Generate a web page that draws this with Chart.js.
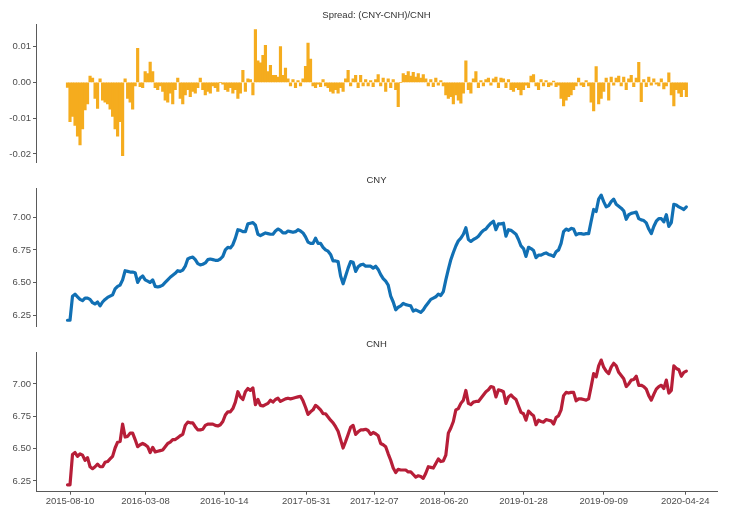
<!DOCTYPE html>
<html>
<head>
<meta charset="utf-8">
<script src="https://cdn.jsdelivr.net/npm/chart.js@4"></script>
<style>
  html, body { margin: 0; padding: 0; background: #ffffff; }
  body { width: 732px; height: 516px; position: relative; overflow: hidden; }
  canvas { position: absolute; left: 0; }
</style>
</head>
<body>
<canvas id="c1" width="732" height="170" style="top:0px"></canvas>
<canvas id="c2" width="732" height="170" style="top:164px"></canvas>
<canvas id="c3" width="732" height="187" style="top:329px"></canvas>
<script>
// ---------- data (weekly observations starting 2015-08-03) ----------
const startDate = '2015-08-03';
const stepDays = 7;

const spread = [
  -0.0014,-0.0110,-0.0095,-0.0120,-0.0150,-0.0175,-0.0130,-0.0077,-0.0060,0.0018,
  0.0012,-0.0045,-0.0073,0.0010,-0.0050,-0.0055,-0.0060,-0.0075,-0.0095,-0.0130,
  -0.0150,-0.0110,-0.0205,0.0010,-0.0045,-0.0055,-0.0075,-0.0010,0.0095,-0.0012,
  -0.0015,0.0030,0.0025,0.0057,0.0030,-0.0015,-0.0020,-0.0010,-0.0025,-0.0050,
  -0.0055,-0.0030,-0.0060,-0.0020,0.0012,-0.0045,-0.0060,-0.0035,-0.0020,-0.0040,
  -0.0025,-0.0030,-0.0015,0.0012,-0.0020,-0.0035,-0.0025,-0.0030,-0.0010,-0.0015,
  -0.0025,0,-0.0005,-0.0020,-0.0025,-0.0015,-0.0030,-0.0020,-0.0045,-0.0030,
  0.0034,-0.0025,0.0010,0.0008,-0.0035,0.0148,0.0060,0.0055,0.0076,0.0104,
  0.0030,0.0048,0.0020,0.0020,0.0015,0.0100,0.0020,0.0040,0.0010,-0.0010,
  0.0008,-0.0015,0.0005,-0.0010,0.0010,0.0045,0.0110,0.0065,-0.0010,-0.0015,
  -0.0005,-0.0012,0.0008,-0.0010,-0.0015,-0.0025,-0.0030,-0.0020,-0.0030,-0.0015,
  -0.0025,0.0010,0.0034,-0.0010,0.0010,0.0020,-0.0015,0.0020,-0.0010,0.0008,
  -0.0010,0.0005,-0.0012,0.0008,0.0022,-0.0010,0.0012,-0.0025,0.0010,-0.0015,
  0.0008,-0.0020,-0.0068,0,0.0025,0.0020,0.0030,0.0018,0.0028,0.0015,
  0.0025,0.0012,0.0022,0.0010,-0.0010,0.0008,-0.0012,0.0012,-0.0008,0.0005,
  -0.0010,-0.0035,-0.0045,-0.0040,-0.0060,-0.0035,-0.0050,-0.0058,-0.0030,0.0060,
  -0.0020,-0.0030,0.0010,0.0030,-0.0015,0.0005,-0.0010,0.0008,0.0012,-0.0008,
  0.0010,0.0015,-0.0015,0.0012,0.0010,-0.0015,0.0008,-0.0020,-0.0025,-0.0015,
  -0.0020,-0.0035,-0.0020,-0.0008,-0.0015,0.0018,0.0022,-0.0010,-0.0020,0.0008,
  -0.0010,0.0005,-0.0012,-0.0008,0.0004,-0.0012,-0.0008,-0.0045,-0.0066,-0.0050,
  -0.0040,-0.0035,-0.0020,-0.0010,0.0012,-0.0008,-0.0012,0.0005,-0.0010,-0.0055,
  -0.0080,0.0044,-0.0060,-0.0045,-0.0025,0.0012,-0.0050,0.0015,-0.0008,0.0012,
  0.0018,-0.0010,0.0015,-0.0020,0.0010,0.0020,-0.0012,0.0012,0.0056,-0.0054,
  0.0008,-0.0012,0.0015,-0.0008,0.0010,-0.0005,-0.0010,0.0010,-0.0018,-0.0010,
  0.0027,-0.0035,-0.0066,-0.0020,-0.0030,-0.0040,-0.0020,-0.0040
];

const cny = [
  6.21,6.21,6.395,6.41,6.39,6.37,6.36,6.38,6.38,6.37,
  6.345,6.335,6.35,6.32,6.35,6.37,6.385,6.395,6.405,6.45,
  6.47,6.48,6.52,6.59,6.585,6.58,6.58,6.575,6.50,6.535,
  6.55,6.52,6.51,6.50,6.52,6.47,6.465,6.47,6.48,6.50,
  6.52,6.54,6.555,6.57,6.59,6.585,6.595,6.625,6.68,6.69,
  6.695,6.675,6.645,6.635,6.64,6.65,6.675,6.68,6.675,6.67,
  6.67,6.68,6.70,6.75,6.77,6.765,6.79,6.84,6.905,6.90,
  6.89,6.89,6.95,6.955,6.96,6.94,6.87,6.86,6.87,6.88,
  6.875,6.87,6.87,6.895,6.91,6.90,6.88,6.88,6.895,6.89,
  6.885,6.89,6.905,6.895,6.88,6.85,6.81,6.80,6.80,6.84,
  6.80,6.80,6.77,6.75,6.74,6.715,6.665,6.665,6.66,6.55,
  6.49,6.55,6.61,6.66,6.655,6.585,6.62,6.635,6.64,6.625,
  6.625,6.625,6.61,6.625,6.60,6.56,6.53,6.51,6.48,6.395,
  6.35,6.29,6.31,6.32,6.34,6.33,6.325,6.32,6.28,6.29,
  6.28,6.27,6.29,6.32,6.345,6.37,6.38,6.39,6.41,6.40,
  6.43,6.52,6.60,6.675,6.73,6.78,6.82,6.84,6.87,6.92,
  6.83,6.815,6.83,6.84,6.855,6.88,6.90,6.91,6.935,6.955,
  6.97,6.905,6.95,6.95,6.955,6.855,6.905,6.90,6.885,6.87,
  6.83,6.78,6.76,6.70,6.77,6.76,6.745,6.69,6.71,6.71,
  6.72,6.727,6.715,6.71,6.70,6.735,6.75,6.80,6.89,6.91,
  6.90,6.915,6.91,6.865,6.875,6.875,6.87,6.875,6.875,6.97,
  7.06,7.045,7.14,7.17,7.12,7.08,7.09,7.12,7.14,7.10,
  7.085,7.07,7.05,6.985,7.02,7.03,7.035,7.04,6.99,6.98,
  6.975,6.957,6.91,6.875,6.93,6.97,6.99,6.99,6.965,7.02,
  6.93,6.96,7.10,7.095,7.08,7.07,7.06,7.08
];

const cnh = [
  6.22,6.22,6.455,6.47,6.44,6.46,6.45,6.41,6.43,6.36,
  6.345,6.36,6.38,6.36,6.36,6.395,6.40,6.42,6.44,6.505,
  6.55,6.555,6.69,6.59,6.595,6.62,6.62,6.57,6.515,6.53,
  6.54,6.53,6.515,6.47,6.51,6.475,6.48,6.485,6.49,6.515,
  6.54,6.55,6.57,6.57,6.585,6.60,6.61,6.68,6.705,6.70,
  6.70,6.67,6.645,6.645,6.65,6.68,6.69,6.69,6.69,6.68,
  6.675,6.685,6.71,6.76,6.785,6.785,6.81,6.86,6.94,6.90,
  6.88,6.94,6.965,6.95,6.97,6.84,6.88,6.835,6.83,6.84,
  6.85,6.875,6.86,6.88,6.89,6.865,6.875,6.885,6.89,6.885,
  6.89,6.895,6.90,6.905,6.87,6.82,6.765,6.785,6.80,6.835,
  6.82,6.80,6.77,6.77,6.745,6.72,6.70,6.67,6.635,6.57,
  6.505,6.555,6.61,6.665,6.68,6.61,6.63,6.645,6.645,6.65,
  6.64,6.61,6.625,6.615,6.60,6.54,6.53,6.515,6.46,6.41,
  6.35,6.315,6.34,6.335,6.335,6.335,6.32,6.32,6.30,6.28,
  6.29,6.285,6.27,6.31,6.36,6.355,6.35,6.385,6.42,6.40,
  6.405,6.45,6.62,6.66,6.71,6.80,6.81,6.85,6.875,6.95,
  6.85,6.84,6.86,6.865,6.865,6.89,6.915,6.94,6.955,6.98,
  6.975,6.90,6.955,6.95,6.94,6.85,6.90,6.915,6.895,6.88,
  6.83,6.78,6.77,6.72,6.79,6.77,6.755,6.685,6.72,6.71,
  6.705,6.725,6.72,6.715,6.69,6.74,6.755,6.80,6.91,6.935,
  6.93,6.935,6.935,6.87,6.885,6.885,6.88,6.875,6.885,6.98,
  7.08,7.055,7.14,7.185,7.13,7.10,7.08,7.13,7.16,7.14,
  7.09,7.065,7.04,6.98,7.00,7.03,7.035,7.06,6.99,6.99,
  6.98,6.96,6.91,6.875,6.92,6.96,6.98,6.99,6.965,7.03,
  6.93,6.95,7.14,7.12,7.11,7.06,7.09,7.10
];

const xTickLabels = ['2015-08-10','2016-03-08','2016-10-14','2017-05-31','2017-12-07',
                     '2018-06-20','2019-01-28','2019-09-09','2020-04-24'];
const spreadTicks = [-0.02, -0.01, 0.00, 0.01];
const priceTicks = [6.25, 6.50, 6.75, 7.00];
const titles = ['Spread: (CNY-CNH)/CNH', 'CNY', 'CNH'];

// ---------- helpers ----------
const DAY = 86400000;
const ts = s => Date.parse(s + 'T00:00:00Z');
const t0 = ts(startDate);
const dates = spread.map((_, i) => new Date(t0 + i * stepDays * DAY).toISOString().slice(0, 10));
const xs = dates.map(ts);
const anchor = ts('2015-08-10');
const X_MIN = anchor - 95.0 * DAY;
const X_MAX = anchor + 1807.6 * DAY;

const FONT = { family: '"Liberation Sans", Arial, sans-serif', size: 9.5 };
const AXIS = '#5a5a5a';
const LABEL = '#4d4d4d';

function xScale(show) {
  const s = {
    type: 'linear', min: X_MIN, max: X_MAX, offset: false,
    display: show,
    grid: { display: true, drawOnChartArea: false, drawTicks: true, tickLength: 3, color: AXIS },
    border: { display: true, color: AXIS, width: 1 },
    afterBuildTicks: sc => { sc.ticks = xTickLabels.map(d => ({ value: ts(d) })); },
    ticks: {
      autoSkip: false, maxRotation: 0, padding: 1, color: LABEL, font: FONT,
      callback: v => new Date(v).toISOString().slice(0, 10)
    }
  };
  if (show) s.afterFit = sc => { sc.height = 24.3; };
  return s;
}
function yScale(min, max, tickVals) {
  return {
    type: 'linear', min, max, position: 'left',
    grid: { display: true, drawOnChartArea: false, drawTicks: true, tickLength: 3, color: AXIS },
    border: { display: true, color: AXIS, width: 1 },
    afterBuildTicks: s => { s.ticks = tickVals.map(v => ({ value: v })); },
    afterFit: s => { s.width = 36; },
    ticks: { padding: 2, color: LABEL, font: FONT, callback: v => Number(v).toFixed(2) }
  };
}
function titleOpt(text, padTop, padBottom) {
  return {
    display: true, text, fullSize: false, color: '#333333',
    font: { family: FONT.family, size: 9.5, weight: 'normal', lineHeight: 1.2 },
    padding: { top: padTop, bottom: padBottom }
  };
}
const common = {
  responsive: false, animation: false, devicePixelRatio: 1,
  events: []
};

// ---------- spread bars ----------
new Chart(document.getElementById('c1'), {
  type: 'bar',
  data: { datasets: [{
    data: xs.map((x, i) => ({ x, y: spread[i] })),
    backgroundColor: '#F5AC1E', borderWidth: 0,
    barPercentage: 1.0, categoryPercentage: 1.0
  }]},
  options: Object.assign({}, common, {
    layout: { padding: { left: 0, right: 15, top: 0, bottom: 7.3 } },
    plugins: { legend: { display: false }, tooltip: { enabled: false },
               title: titleOpt(titles[0], 9.3, 3.3) },
    scales: { x: xScale(false), y: yScale(-0.02234, 0.01633, spreadTicks) }
  })
});

// ---------- CNY ----------
new Chart(document.getElementById('c2'), {
  type: 'line',
  data: { datasets: [{
    data: xs.map((x, i) => ({ x, y: cny[i] })),
    borderColor: '#1170B4', borderWidth: 3.2, pointRadius: 0, tension: 0,
    borderJoinStyle: 'round', borderCapStyle: 'round', fill: false
  }]},
  options: Object.assign({}, common, {
    layout: { padding: { left: 0, right: 15, top: 0, bottom: 7 } },
    plugins: { legend: { display: false }, tooltip: { enabled: false },
               title: titleOpt(titles[1], 10.3, 2.3) },
    scales: { x: xScale(false), y: yScale(6.1635, 7.225, priceTicks) }
  })
});

// ---------- CNH ----------
new Chart(document.getElementById('c3'), {
  type: 'line',
  data: { datasets: [{
    data: xs.map((x, i) => ({ x, y: cnh[i] })),
    borderColor: '#B71E38', borderWidth: 3.2, pointRadius: 0, tension: 0,
    borderJoinStyle: 'round', borderCapStyle: 'round', fill: false
  }]},
  options: Object.assign({}, common, {
    layout: { padding: { left: 0, right: 15, top: 0, bottom: 0 } },
    plugins: { legend: { display: false }, tooltip: { enabled: false },
               title: titleOpt(titles[2], 9.3, 3.0) },
    scales: { x: xScale(true), y: yScale(6.167, 7.242, priceTicks) }
  })
});
</script>
</body>
</html>
